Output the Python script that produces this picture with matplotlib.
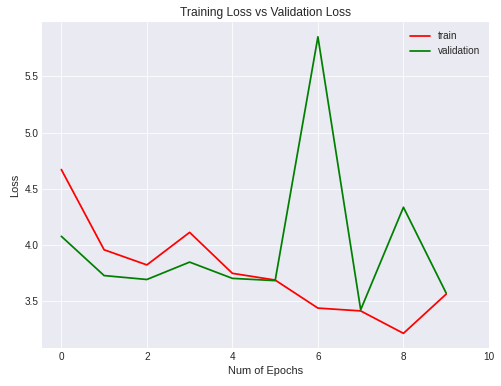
import numpy as np
import matplotlib
matplotlib.use("Agg")
import matplotlib.pyplot as plt

epochs = list(range(10))
train_loss = [4.67, 3.955, 3.82, 4.11, 3.745, 3.685, 3.435, 3.41, 3.21, 3.56]
val_loss = [4.075, 3.725, 3.69, 3.845, 3.70, 3.68, 5.853, 3.42, 4.334, 3.568]

plt.style.use("seaborn-v0_8-darkgrid")
plt.rcParams['font.family'] = ['Liberation Sans', 'DejaVu Sans']

fig = plt.figure(figsize=(501 / 72, 386 / 72), dpi=72)
ax = fig.add_subplot(111)
fig.subplots_adjust(left=0.084, right=0.976, bottom=0.098, top=0.943)

ax.plot(epochs, train_loss, 'r', label='train', lw=1.75)
ax.plot(epochs, val_loss, 'g', label='validation', lw=1.75)
ax.set_xticks(range(0, 11, 2))
ax.set_title('Training Loss vs Validation Loss')
ax.set_xlabel('Num of Epochs', fontsize=11)
ax.set_ylabel('Loss', fontsize=11)
ax.legend(loc='upper right')

fig.savefig("out.png", dpi=72)
